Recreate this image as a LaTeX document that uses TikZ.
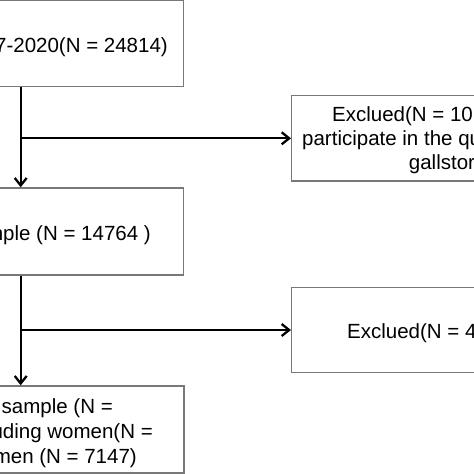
\documentclass[tikz,border=0pt]{standalone}
\usepackage{fontspec}
\setmainfont{Liberation Sans}
\usetikzlibrary{arrows.meta,calc}
\definecolor{boxgray}{RGB}{120,120,120}
\tikzset{
  box/.style={draw=boxgray, line width=1.4pt, rectangle, inner sep=0pt},
  arr/.style={draw=black, line width=2pt, -{Straight Barb[length=7.5pt,width=12pt,line width=2.3pt]}},
  txt/.style={inner sep=0pt, font=\fontsize{20.5}{24}\selectfont, text=black}
}
\begin{document}
\begin{tikzpicture}[x=1pt,y=-1pt]
\useasboundingbox (0,0) rectangle (474,474);
\clip (0,0) rectangle (474,474);
\fill[white] (0,0) rectangle (474,474);
% boxes
\node[box, minimum width=400pt, minimum height=86pt] (b1) at (-16.5,43.5) {};
\node[box, minimum width=400pt, minimum height=87pt] (b2) at (-16.5,231.5) {};
\node[box, minimum width=400pt, minimum height=87pt] (b3) at (-16,429.5) {};
\node[box, minimum width=400pt, minimum height=85.3pt] (e1) at (491.7,138.3) {};
\node[box, minimum width=400pt, minimum height=85.4pt] (e2) at (491.7,330) {};
% texts
\node[txt, anchor=base east] (t1) at (168,52.5) {7-2020(N = 24814)};
\node[txt, anchor=base east] (t2) at (151,240) {nple (N = 14764 )};
\node[txt, anchor=base west] (t3a) at (332,121.7) {Exclued(N = 10};
\node[txt, anchor=base west] (t3b) at (302,145.5) {participate in the qu};
\node[txt, anchor=base west] (t3c) at (408.7,169.5) {gallstor};
\node[txt, anchor=base west] (t4) at (347,338.3) {Exclued(N = 4};
\node[txt, anchor=base east] (t5a) at (113,413) {sample (N =};
\node[txt, anchor=base east] (t5b) at (153,438) {uding women(N =};
\node[txt, anchor=base east] (t5c) at (137,463) {men (N = 7147)};
% connectors
\coordinate (v) at (20.7,0);
\draw[arr] (b1.south -| v) -- (b2.north -| v);
\draw[arr] (b2.south -| v) -- (b3.north -| v);
\draw[arr] (v |- e1.west) -- (e1.west);
\draw[arr] (v |- e2.west) -- (e2.west);
\end{tikzpicture}
\end{document}
